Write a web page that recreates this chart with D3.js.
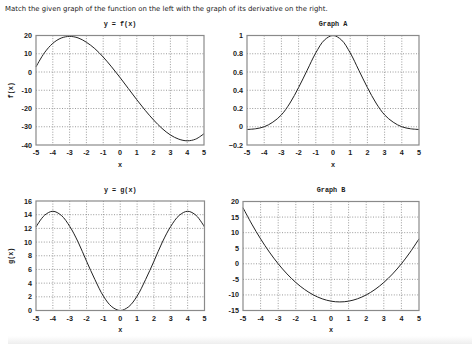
<!DOCTYPE html>
<html>
<head>
<meta charset="utf-8">
<script src="https://cdn.jsdelivr.net/npm/d3@7"></script>
<style>
  html, body { margin: 0; padding: 0; background: #fff; }
  svg { display: block; }
</style>
</head>
<body>
<svg id="chart" width="474" height="344"></svg>
<script>
// ---- data ----
const heading = "Match the given graph of the function on the left with the graph of its derivative on the right.";
const xValues = [-5, -4.5, -4, -3.5, -3, -2.5, -2, -1.5, -1, -0.5, 0, 0.5, 1, 1.5, 2, 2.5, 3, 3.5, 4, 4.5, 5];
const fValues = [2.8, 10.5, 15.7, 18.6, 19.5, 18.7, 16.3, 12.8, 8.2, 2.8, -3, -9.1, -15.2, -21, -26.3, -30.9, -34.5, -36.8, -37.7, -36.8, -33.8];
const aValues = [-0.03, -0.022, 0.0, 0.05, 0.13, 0.26, 0.43, 0.62, 0.81, 0.95, 1.0, 0.95, 0.81, 0.62, 0.43, 0.26, 0.13, 0.05, 0.0, -0.022, -0.03];
const gValues = [12.2, 13.9, 14.5, 13.9, 12.3, 10.0, 7.2, 4.5, 2.1, 0.55, 0, 0.55, 2.1, 4.5, 7.2, 10.0, 12.3, 13.9, 14.5, 13.9, 12.2];
const bValues = [18, 12.75, 8, 3.75, 0, -3.25, -6, -8.25, -10, -11.25, -12, -12.25, -12, -11.25, -10, -8.25, -6, -3.25, 0, 3.75, 8];
const xTicks = [-5, -4, -3, -2, -1, 0, 1, 2, 3, 4, 5];
const fTicks = [-40, -30, -20, -10, 0, 10, 20];
const aTicks = [-0.2, 0, 0.2, 0.4, 0.6, 0.8, 1];
const gTicks = [0, 2, 4, 6, 8, 10, 12, 14, 16];
const bTicks = [-15, -10, -5, 0, 5, 10, 15, 20];
const titles = ["y = f(x)", "Graph A", "y = g(x)", "Graph B"];
const yLabels = ["f(x)", "", "g(x)", ""];
const xLabel = "x";

const svg = d3.select("#chart");

// faint grey band at the bottom of the picture
const defs = svg.append("defs");
const grad = defs.append("linearGradient").attr("id", "band").attr("x1", 0).attr("y1", 0).attr("x2", 0).attr("y2", 1);
grad.append("stop").attr("offset", "0%").attr("stop-color", "#ffffff");
grad.append("stop").attr("offset", "100%").attr("stop-color", "#eeeeee");
svg.append("rect").attr("x", 8).attr("y", 336).attr("width", 464).attr("height", 8).attr("fill", "url(#band)");

// heading
const head = svg.append("text")
  .attr("x", 5).attr("y", 10.5)
  .attr("font-family", "'DejaVu Sans', Verdana, sans-serif")
  .attr("font-size", 8)
  .attr("fill", "#1a1a1a")
  .text(heading);
const hw = head.node().getComputedTextLength();
head.attr("font-size", 8 * 323 / hw);

const panels = [
  { vals: fValues, ticks: fTicks, dom: [-40, 20], x0: 36, x1: 204, y0: 35.5, y1: 145, fmt: d => d },
  { vals: aValues, ticks: aTicks, dom: [-0.2, 1], x0: 247, x1: 419, y0: 35.5, y1: 145, fmt: d => (d === 0 || d === 1) ? String(d) : d3.format(".1f")(d) },
  { vals: gValues, ticks: gTicks, dom: [0, 16], x0: 36, x1: 204.5, y0: 201, y1: 310.5, fmt: d => d },
  { vals: bValues, ticks: bTicks, dom: [-15, 20], x0: 243, x1: 419, y0: 201.5, y1: 310.5, fmt: d => d }
];

const mono = "'Liberation Mono', 'DejaVu Sans Mono', monospace";
const num = "'Liberation Sans', Arial, sans-serif";
const fs = 6.8;

panels.forEach((p, i) => {
  const x = d3.scaleLinear().domain([-5, 5]).range([p.x0, p.x1]);
  const y = d3.scaleLinear().domain(p.dom).range([p.y1, p.y0]);
  const g = svg.append("g");

  // grid
  g.selectAll(".vg").data(xTicks.slice(1, -1)).join("line")
    .attr("x1", d => x(d)).attr("x2", d => x(d))
    .attr("y1", p.y0).attr("y2", p.y1)
    .attr("stroke", "#8f8f8f").attr("stroke-width", 0.9).attr("stroke-dasharray", "1,1.6");
  g.selectAll(".hg").data(p.ticks.slice(1, -1)).join("line")
    .attr("x1", p.x0).attr("x2", p.x1)
    .attr("y1", d => y(d)).attr("y2", d => y(d))
    .attr("stroke", "#8f8f8f").attr("stroke-width", 0.9).attr("stroke-dasharray", "1,1.6");

  // curve
  const line = d3.line().x((d, k) => x(xValues[k])).y(d => y(d)).curve(d3.curveCatmullRom.alpha(0.5));
  g.append("path").datum(p.vals).attr("d", line)
    .attr("fill", "none").attr("stroke", "#222").attr("stroke-width", 1);

  // border
  g.append("rect").attr("x", p.x0).attr("y", p.y0)
    .attr("width", p.x1 - p.x0).attr("height", p.y1 - p.y0)
    .attr("fill", "none").attr("stroke", "#8a8a8a").attr("stroke-width", 1.2);

  const txt = (sel, fam, size) => sel
    .attr("dominant-baseline", "central")
    .attr("font-family", fam).attr("font-weight", "bold").attr("font-size", size).attr("fill", "#1a1a1a");

  // x tick labels
  g.selectAll(".xt").data(xTicks).join("text")
    .attr("x", d => x(d)).attr("y", p.y1 + 7.5)
    .attr("text-anchor", "middle").call(txt, num, 7.2)
    .text(d => d);

  // y tick labels
  g.selectAll(".yt").data(p.ticks).join("text")
    .attr("x", p.x0 - 4).attr("y", d => y(d))
    .attr("text-anchor", "end").call(txt, num, 7.2)
    .text(d => p.fmt(d));

  // title
  g.append("text").attr("x", (p.x0 + p.x1) / 2).attr("y", p.y0 - 11.5)
    .attr("text-anchor", "middle").call(txt, mono, fs)
    .text(titles[i]);

  // x label
  g.append("text").attr("x", (p.x0 + p.x1) / 2).attr("y", p.y1 + 19.5)
    .attr("text-anchor", "middle").call(txt, mono, fs)
    .text(xLabel);

  // y label
  if (yLabels[i]) {
    const cy = (p.y0 + p.y1) / 2;
    g.append("text").attr("transform", `translate(11,${cy}) rotate(-90)`)
      .attr("text-anchor", "middle").call(txt, mono, fs)
      .text(yLabels[i]);
  }
});
</script>
</body>
</html>
